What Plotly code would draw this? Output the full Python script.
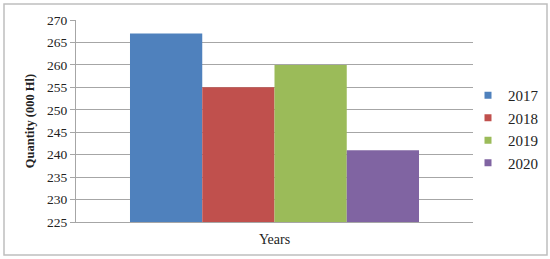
import plotly.graph_objects as go

categories = ["Years"]
years = ["2017", "2018", "2019", "2020"]
values = [267, 255, 260, 241]
colors = ["#4F81BD", "#C0504D", "#9BBB59", "#8064A2"]
y_ticks = [225, 230, 235, 240, 245, 250, 255, 260, 265, 270]

FONT = "Liberation Serif"

fig = go.Figure()
for yr, v, c in zip(years, values, colors):
    fig.add_trace(go.Bar(name=yr, x=categories, y=[v], showlegend=False,
                         marker=dict(color=c, line=dict(width=0))))
# legend entries with small square keys
for yr, c in zip(years, colors):
    fig.add_trace(go.Scatter(name=yr, x=[None], y=[None], mode="markers",
                             marker=dict(symbol="square", size=7, color=c),
                             showlegend=True))

W, H = 550, 259
ml, mr, mt, mb = 76, 77, 20, 37
pw, ph = W - ml - mr, H - mt - mb

def px(x):
    return (x - ml) / pw

def py(y):
    return (H - mb - y) / ph

fig.update_layout(
    width=W, height=H,
    margin=dict(l=ml, r=mr, t=mt, b=mb, autoexpand=False),
    barmode="group",
    bargap=0.272,
    bargroupgap=0,
    plot_bgcolor="white",
    paper_bgcolor="white",
    font=dict(family=FONT, size=13, color="#222"),
    showlegend=True,
    legend=dict(
        x=px(468), y=py(129), xanchor="left", yanchor="middle",
        font=dict(family=FONT, size=15, color="#222"),
        itemwidth=30,
        bgcolor="rgba(0,0,0,0)",
    ),
    xaxis=dict(
        automargin=False,
        showgrid=False,
        showline=True, linecolor="#A6A6A6", linewidth=1,
        ticks="", ticklabelstandoff=4,
        tickfont=dict(family=FONT, size=14, color="#222"),
    ),
    yaxis=dict(
        automargin=False,
        range=[225, 270],
        tickvals=y_ticks,
        showgrid=True, gridcolor="#A6A6A6", gridwidth=1,
        showline=True, linecolor="#A6A6A6", linewidth=1,
        ticks="outside", ticklen=5, tickcolor="#A6A6A6",
        tickfont=dict(family=FONT, size=13.5, color="#222"),
        title=dict(text="<b>Quantity (000 Hl)</b>", font=dict(family=FONT, size=12.5, color="#222"), standoff=9),
        zeroline=False,
    ),
    shapes=[dict(
        type="rect", xref="paper", yref="paper",
        x0=px(4), x1=px(547), y0=py(255), y1=py(4),
        line=dict(color="#BFBFBF", width=1.5), fillcolor="rgba(0,0,0,0)", layer="below",
    )],
)

fig.write_html(
    "out.html",
    config={"displayModeBar": False},
    post_script="document.body.style.margin='0';document.body.style.overflow='hidden';",
)
